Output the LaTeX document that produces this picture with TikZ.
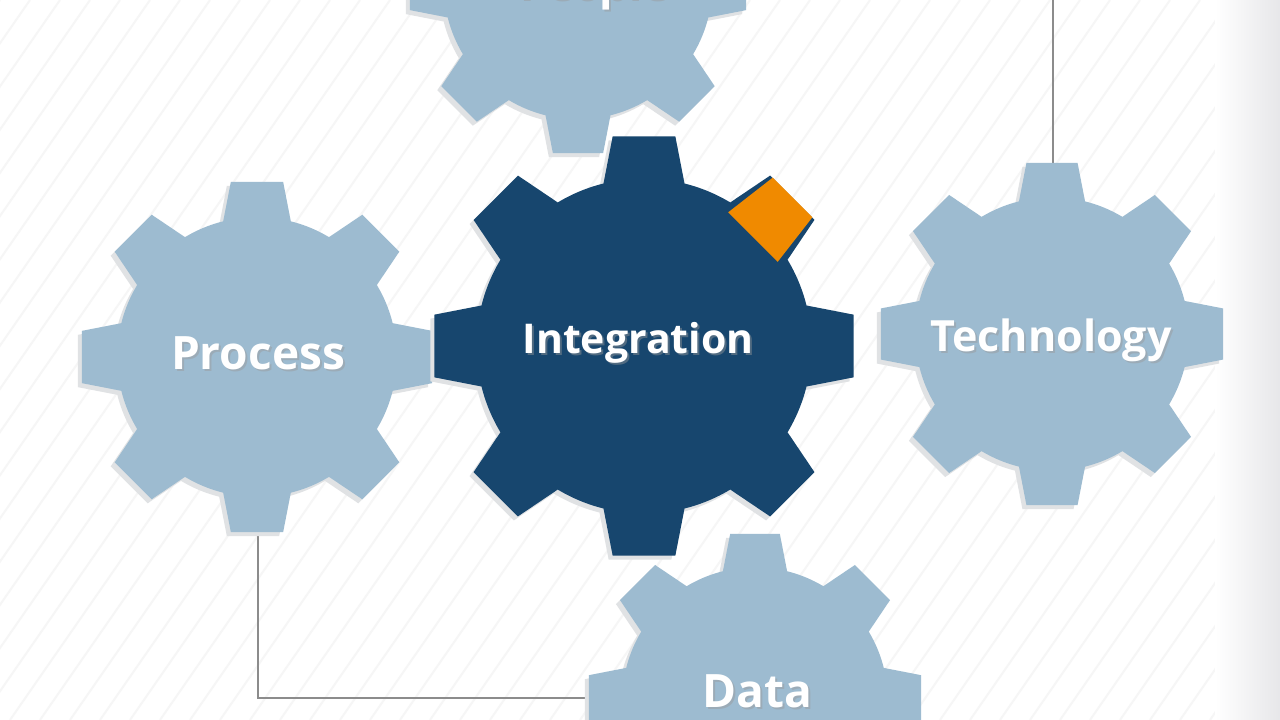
\documentclass[tikz,border=0pt]{standalone}
\usepackage{fontspec}
\setmainfont{Open Sans}
\usetikzlibrary{calc}
\definecolor{darkgear}{HTML}{17466E}
\definecolor{lightgear}{HTML}{9DBBD0}
\definecolor{orangetooth}{HTML}{F08A00}
\definecolor{wire}{HTML}{8C8C8C}
\definecolor{gshadow}{HTML}{E0E2E4}
\newcommand{\gearfill}[4]{%
  \begin{scope}[shift={(#1,#2)}]
    \fill[#4] (-14:{0.79*#3})
      \foreach \a in {0,45,...,315}{
        -- (\a-14:{0.79*#3}) -- (\a-8.5:#3) -- (\a+8.5:#3) -- (\a+14:{0.79*#3})
        arc[start angle=\a+14, end angle=\a+31, radius={0.79*#3}]
      } -- cycle;
  \end{scope}}
\newcommand{\gearwithshadow}[4]{%
  \gearfill{#1-4}{#2+4}{#3}{gshadow}%
  \gearfill{#1}{#2}{#3}{#4}}
\newcommand{\gearlabeltext}[5]{% name, x, y, size, text
  \node[labelshadow, font=\fontsize{#4}{#4}\selectfont\bfseries] at ({#2+2},{#3+2}) {#5};
  \node[gearlabel, font=\fontsize{#4}{#4}\selectfont\bfseries] (#1) at (#2,#3) {#5};}
\begin{document}
\begin{tikzpicture}[x=1pt,y=-1pt,
  gearlabel/.style={inner sep=0pt, text=white},
  labelshadow/.style={inner sep=0pt, text=black!40, opacity=0.45},
  wireline/.style={draw=wire, line width=2.4pt}]
\useasboundingbox (0,0) rectangle (1280,720);
\clip (0,0) rectangle (1280,720);
\fill[white] (0,0) rectangle (1280,720);
% faint background stripes
\foreach \i in {-560,-530,...,1300}{
  \draw[black!3.5, line width=2pt] (\i,720) -- (\i+500,0);
}
\shade[left color=white, right color=blue!6!gray!18] (1215,0) rectangle (1280,720);
% connectors
\coordinate (techtop) at (1053,163);
\coordinate (techwireend) at (1053,0);
\coordinate (procbottom) at (258,530);
\coordinate (dataleft) at (592,698);
\draw[wireline] (techtop) -- (techwireend);
\draw[wireline] (procbottom) |- (dataleft);
% light gears
\gearwithshadow{578}{-15}{170}{lightgear}
\gearwithshadow{257}{357}{177}{lightgear}
\gearwithshadow{1052}{334}{173}{lightgear}
\gearwithshadow{755}{700}{168}{lightgear}
% central gear
\gearwithshadow{644}{346}{212}{darkgear}
\begin{scope}[shift={(644,346)}]
  \fill[orangetooth] (-52.6:212) -- (-37.4:212) -- (-32.2:158) -- (-57.8:158) -- cycle;
\end{scope}
% labels
\gearlabeltext{people}{593}{-12}{44}{People}
\gearlabeltext{process}{258}{353}{46}{Process}
\gearlabeltext{integration}{638}{343}{41}{Integration}
\gearlabeltext{technology}{1051}{340}{43}{Technology}
\gearlabeltext{data}{757}{691}{46}{Data}
\end{tikzpicture}
\end{document}
